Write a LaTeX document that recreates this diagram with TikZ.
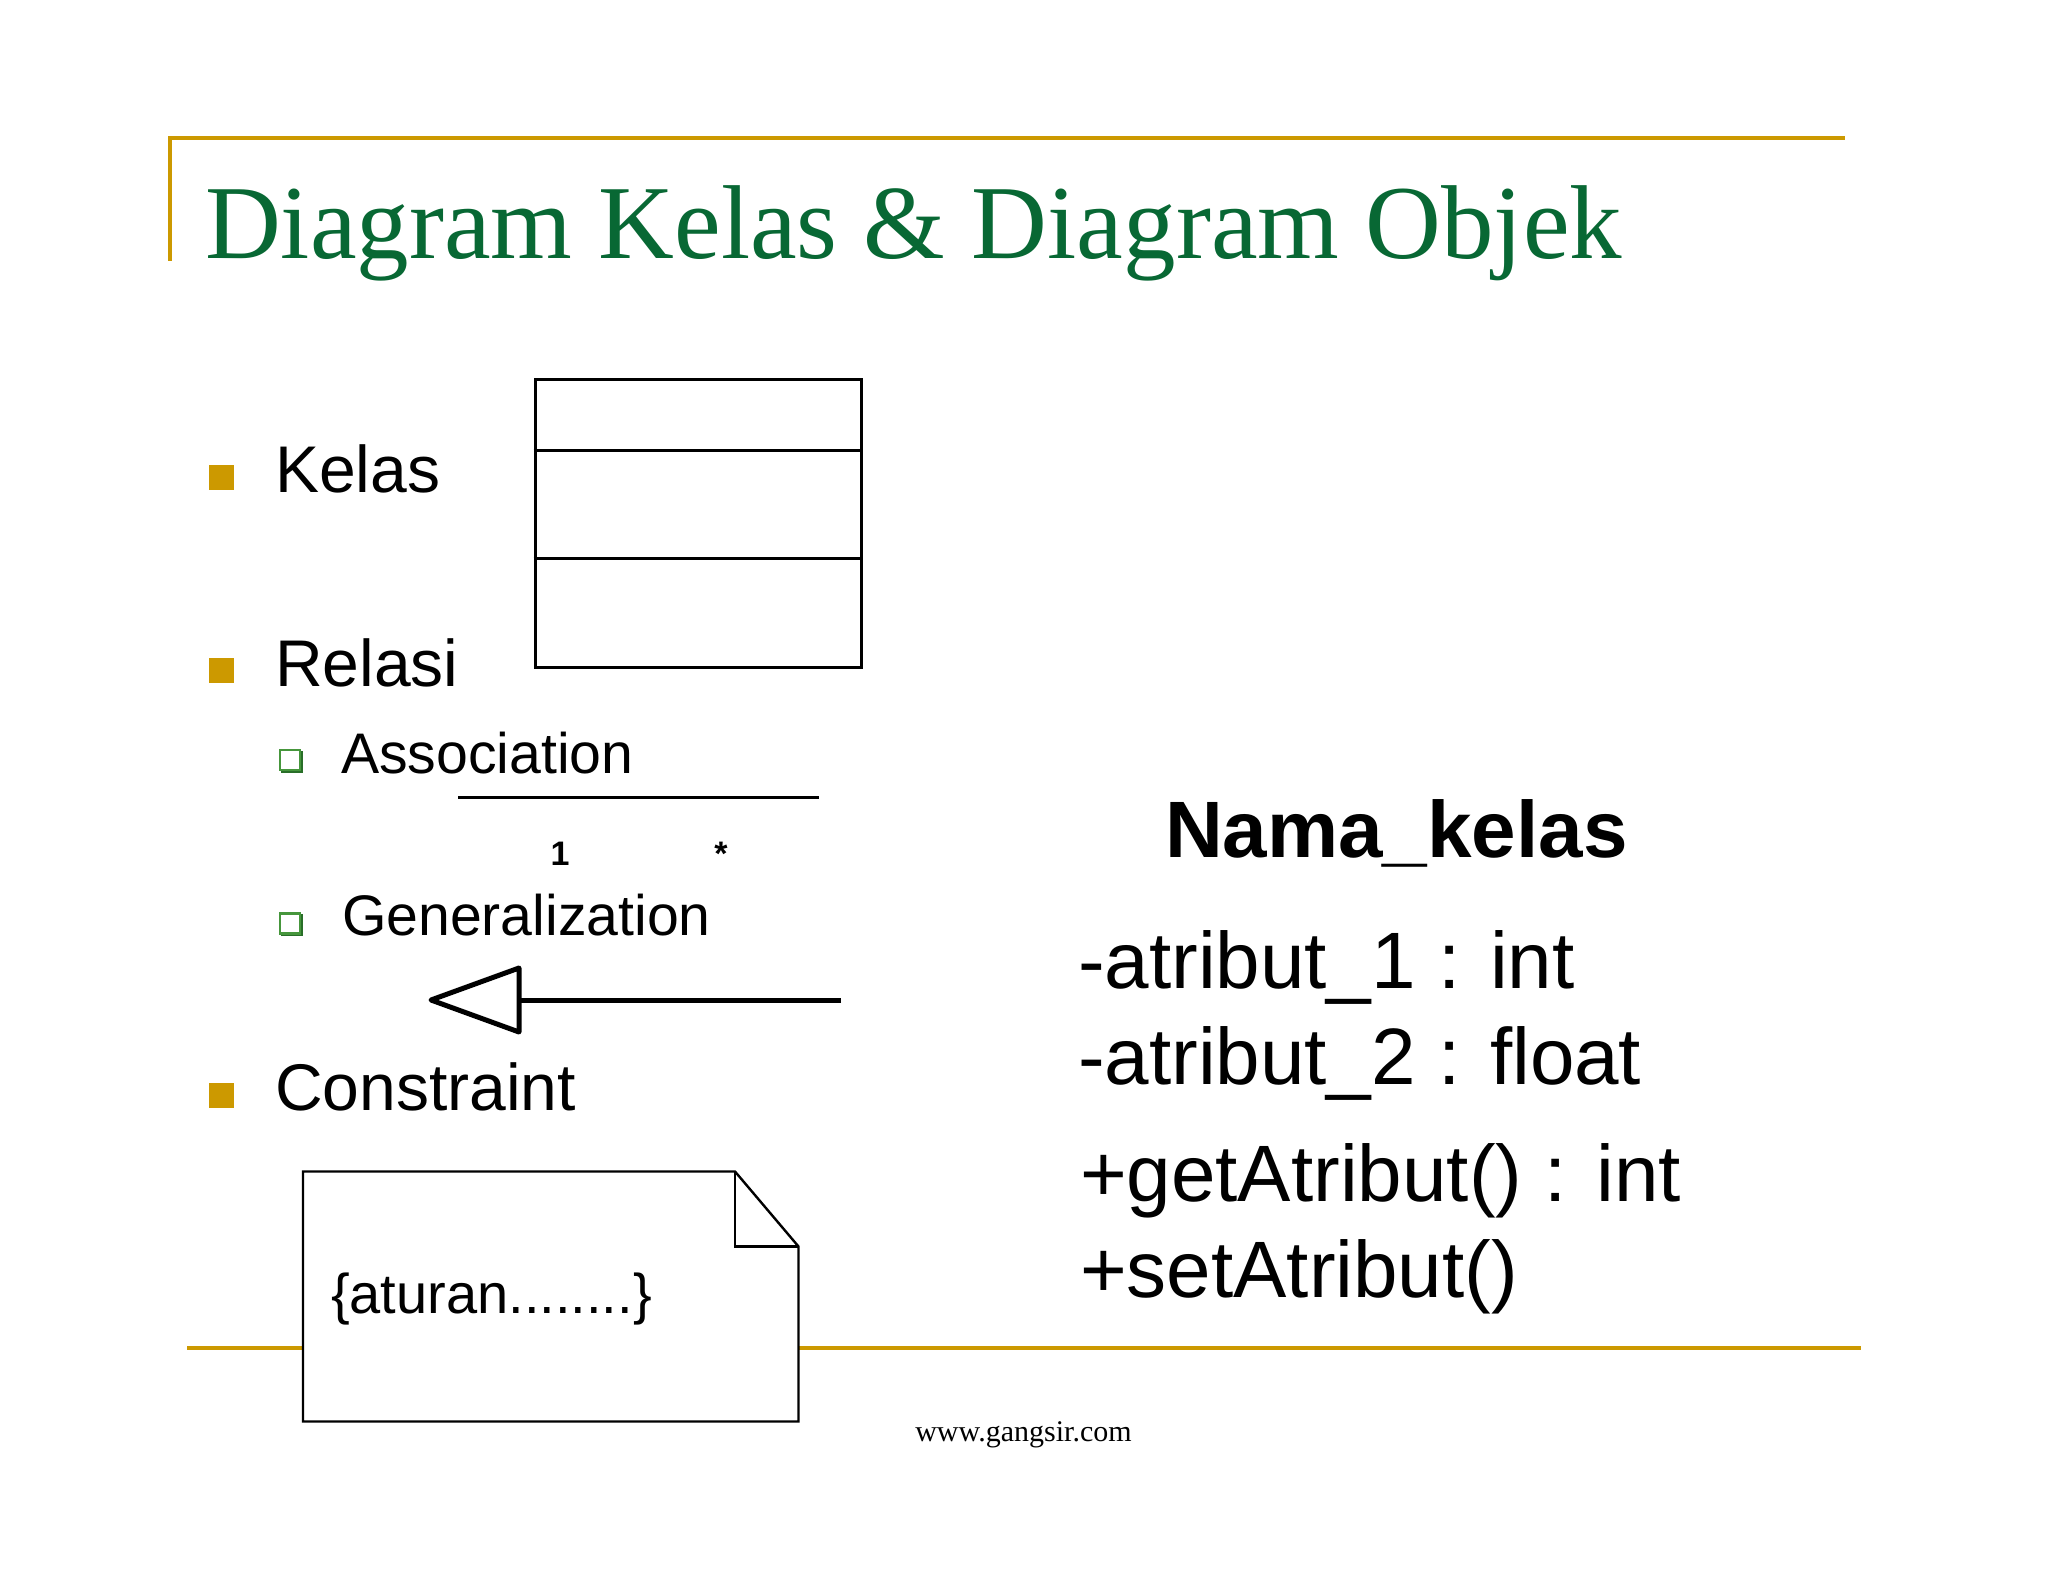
\documentclass[tikz,border=0pt]{standalone}
\usepackage{fontspec}
\setmainfont{Liberation Sans}
\newfontfamily\titlefont{Liberation Serif}
\definecolor{gold}{RGB}{204,153,0}
\definecolor{titlegreen}{RGB}{8,104,52}
\definecolor{subgreen}{RGB}{70,150,60}
\definecolor{subgreendark}{RGB}{40,110,40}
\begin{document}
\begin{tikzpicture}[x=0.5pt,y=-0.5pt,
  txt/.style={inner sep=0pt, outer sep=0pt, anchor=base west},
  bigtxt/.style={txt, font=\fontsize{33}{39}\selectfont},
  subtxt/.style={txt, font=\fontsize{28.6}{34}\selectfont},
  cltxt/.style={txt, font=\fontsize{40}{48}\selectfont},
  goldline/.style={draw=gold, line width=2pt},
  bulletsq/.style={fill=gold, minimum size=12.5pt, inner sep=0pt, outer sep=0pt},
  subsq/.style={draw=subgreen, fill=white, line width=1.3pt, minimum size=10pt, inner sep=0pt},
  subshadow/.style={fill=subgreendark, minimum size=11pt, inner sep=0pt},
  umlline/.style={line width=1.5pt},
  mult/.style={inner sep=0pt, anchor=base, font=\bfseries\fontsize{17}{20}\selectfont}]
\useasboundingbox[fill=white] (0,0) rectangle (2048,1582);

% frame lines
\coordinate (tlb) at (170,261);
\coordinate (tl) at (170,138.5);
\coordinate (tr) at (1845,138.5);
\draw[goldline] (tlb) -- (tl) -- (tr);
\coordinate (bl) at (187,1348);
\coordinate (br) at (1861,1348);
\draw[goldline] (bl) -- (br);

% title
\node[txt, text=titlegreen, font=\titlefont\fontsize{52.5}{60}\selectfont] (title) at (205,259) {Diagram Kelas \& Diagram Objek};

% main bullets
\node[bulletsq] (b1) at (221,477.5) {};
\node[bigtxt] (kelas) at (275,493) {Kelas};
\node[bulletsq] (b2) at (221,670.5) {};
\node[bigtxt] (relasi) at (275,686) {Relasi};
\node[bulletsq] (b3) at (221,1095) {};
\node[bigtxt] (constraint) at (275,1110) {Constraint};

% sub bullets
\node[subshadow] (s1sh) at (291.5,761.5) {};
\node[subsq] (s1) at (290,760) {};
\node[subtxt] (assoc) at (341,773) {Association};
\node[subshadow] (s2sh) at (291.5,925) {};
\node[subsq] (s2) at (290,923.5) {};
\node[subtxt] (gen) at (342,935) {Generalization};

% class box
\node[draw, line width=1.5pt, minimum width=163pt, minimum height=143.5pt, inner sep=0pt] (cls) at (698,523.5) {};
\draw[umlline] ([yshift=-36pt]cls.north west) -- ([yshift=-36pt]cls.north east);
\draw[umlline] ([yshift=-90pt]cls.north west) -- ([yshift=-90pt]cls.north east);

% association
\coordinate (a1) at (458,797);
\coordinate (a2) at (819,797);
\draw[umlline] (a1) -- (a2);
\node[mult] (m1) at (560,865) {1};
\node[mult] (m2) at (721,865) {*};

% generalization
\coordinate (g1) at (841,1000);
\coordinate (gb) at (519,1000);
\coordinate (gt) at (431,1000);
\coordinate (gu) at (519,968);
\coordinate (gd) at (519,1032);
\draw[line width=2.5pt] (g1) -- (gb);
\draw[line width=2.5pt, line join=round] (gu) -- (gt) -- (gd) -- cycle;

% note
\coordinate (n1) at (303,1171.5);
\coordinate (n2) at (735,1171.5);
\coordinate (n3) at (798.5,1246.5);
\coordinate (n4) at (798.5,1421.5);
\coordinate (n5) at (303,1421.5);
\coordinate (nf) at (735,1246.5);
\draw[line width=1.2pt, fill=white] (n1) -- (n2) -- (n3) -- (n4) -- (n5) -- cycle;
\draw[line width=1.2pt] (n2) -- (nf) -- (n3);
\node[txt, font=\fontsize{28}{33}\selectfont] (rule) at (331,1313) {\{aturan........\}};

% footer
\node[inner sep=0pt, anchor=base, font=\titlefont\fontsize{15}{18}\selectfont] (footer) at (1023.5,1441) {www.gangsir.com};

% class example
\node[txt, font=\bfseries\fontsize{40}{48}\selectfont] (cname) at (1165,857) {Nama\_kelas};
\node[cltxt] (at1) at (1078,988) {-atribut\_1 : int};
\node[cltxt] (at2) at (1078,1084) {-atribut\_2 : float};
\node[cltxt] (op1) at (1080,1201.5) {+getAtribut() : int};
\node[cltxt] (op2) at (1080,1297.6) {+setAtribut()};
\end{tikzpicture}
\end{document}
